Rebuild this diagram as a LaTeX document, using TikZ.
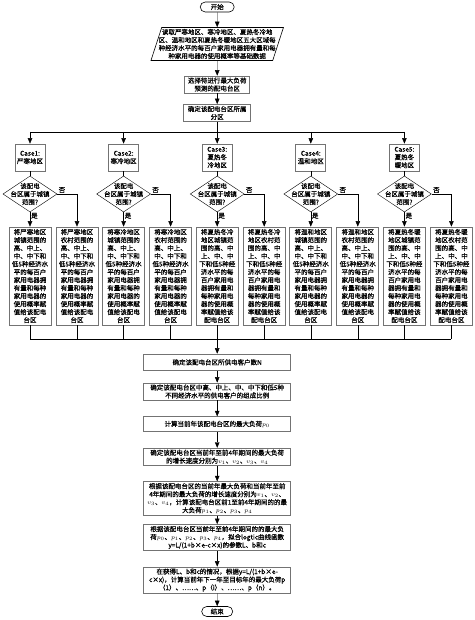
\documentclass[tikz,border=0pt]{standalone}
\usepackage{fontspec}
\setmainfont{Noto Sans CJK SC}[FakeBold=0.6]
\usetikzlibrary{arrows.meta,shapes.geometric,shapes.misc}

\newcommand{\assigntext}[2]{将#1地区\\#2范围的\\高、中上、\\中、中下和\\低5种经济水\\平的每百户\\家用电器拥\\有量和每种\\家用电器的\\使用概率赋\\值给该配电\\台区}
\newcommand{\assigntextlong}[2]{将夏热冬#1\\地区#2范\\围的高、中\\上、中、中\\下和低5种经\\济水平的每\\百户家用电\\器拥有量和\\每种家用电\\器的使用概\\率赋值给该\\配电台区}

\begin{document}
\begin{tikzpicture}[x=1pt,y=-1pt,
    font=\fontsize{6.5}{8}\selectfont,
    flowbox/.style={draw=black!55,line width=0.7pt,align=center,inner sep=1.5pt},
    stepbox/.style={flowbox,minimum width=147pt,minimum height=15pt},
    casebox/.style={flowbox,minimum width=30pt,minimum height=27pt},
    fillbox/.style={flowbox,minimum width=42pt,minimum height=98pt,inner sep=1pt},
    decision/.style={draw,diamond,minimum width=54pt,minimum height=36pt,inner sep=0pt},
    terminal/.style={draw,line width=0.6pt,rounded rectangle,minimum width=36pt,minimum height=10pt,inner sep=1pt},
    flowarrow/.style={-{Triangle[length=5.5pt,width=4.5pt]}},
    tag/.style={inner sep=1pt}]
    \useasboundingbox (0,0) rectangle (474,620);

    % main column, top part
    \node[terminal] (start) at (217.2,7) {开始};
    \node[draw,line width=0.6pt,trapezium,trapezium left angle=72,trapezium right angle=108,
          align=center,inner xsep=-3pt,inner ysep=1.5pt] (input) at (217.2,44)
        {读取严寒地区、寒冷地区、夏热冬冷地\\区、温和地区和夏热冬暖地区五大区域每\\种经济水平的每百户家用电器拥有量和每\\种家用电器的使用概率等基础数据};
    \node[flowbox,minimum width=65pt] (pick) at (217.2,84.5) {选择待进行最大负荷\\预测的配电台区};
    \node[flowbox,minimum width=67pt] (zone) at (217.2,113) {确定该配电台区所属\\分区};
    \coordinate (split) at (217.2,132);

    % the five climate zones
    \node[casebox] (case1) at (30,157.5) {Case1:\\严寒地区};
    \node[casebox] (case2) at (123.6,157.5) {Case2:\\寒冷地区};
    \node[casebox] (case3) at (217.2,157.5) {Case3:\\夏热冬\\冷地区};
    \node[casebox] (case4) at (310.8,157.5) {Case4:\\温和地区};
    \node[casebox] (case5) at (404.4,157.5) {Case5:\\夏热冬\\暖地区};

    \foreach \i/\x in {1/30,2/123.6,3/217.2,4/310.8,5/404.4} {
        \node[decision] (dec\i) at (\x,194) {};
        \node[align=center,inner sep=0pt] (ask\i) at (\x,194) {该配电\\台区属于城镇\\范围?};
    }

    \node[fillbox] (yes1) at (30,276) {\assigntext{严寒}{城镇}};
    \node[fillbox] (no1) at (77,276) {\assigntext{严寒}{农村}};
    \node[fillbox] (yes2) at (123.6,276) {\assigntext{寒冷}{城镇}};
    \node[fillbox] (no2) at (170.6,276) {\assigntext{寒冷}{农村}};
    \node[fillbox] (yes3) at (217.2,276) {\assigntextlong{冷}{城镇}};
    \node[fillbox] (no3) at (264.2,276) {\assigntextlong{冷}{农村}};
    \node[fillbox] (yes4) at (310.8,276) {\assigntext{温和}{城镇}};
    \node[fillbox] (no4) at (357.8,276) {\assigntext{温和}{农村}};
    \node[fillbox] (yes5) at (404.4,276) {\assigntextlong{暖}{城镇}};
    \node[fillbox] (no5) at (451.4,276) {\assigntextlong{暖}{农村}};
    \coordinate (join) at (217.2,339);

    % main column, bottom part
    \node[stepbox,minimum height=16.5pt] (count) at (217.2,362.3) {确定该配电台区所供电客户数N};
    \node[stepbox] (ratio) at (217.2,391.5) {确定该配电台区中高、中上、中、中下和低5种\\不同经济水平的供电客户的组成比例};
    \node[stepbox] (load) at (217.2,424.2) {计算当前年该配电台区的最大负荷$p_0$};
    \node[stepbox] (growth) at (217.2,457) {确定该配电台区当前年至前4年期间的最大负荷\\的增长速度分别为$v_1$、$v_2$、$v_3$、$v_4$};
    \node[stepbox] (past) at (217.2,498.5) {根据该配电台区的当前年最大负荷和当前年至前\\4年期间的最大负荷的增长速度分别为$v_1$、$v_2$、\\$v_3$、$v_4$，计算该配电台区前1至前4年期间的的最\\大负荷$p_1$、$p_2$、$p_3$、$p_4$};
    \node[stepbox] (fit) at (217.2,537.5) {根据该配电台区当前年至前4年期间的的最大负\\荷$p_0$、$p_1$、$p_2$、$p_3$、$p_4$，拟合logtic曲线函数\\y=L/(1+b×e-c×x)的参数L、b和c};
    \node[stepbox] (forecast) at (217.2,580) {在获得L、b和c的情况，根据y=L/(1+b×e-\\c×x)，计算当前年下一年至目标年的最大负荷p\\（1）、……、p（i）、……、p（n）。};
    \node[terminal,minimum width=33pt] (stop) at (217.2,611.5) {结束};

    \draw[flowarrow] (start) -- (input);
    \draw[flowarrow] (input) -- (pick);
    \draw[flowarrow] (pick) -- (zone);
    \draw (zone) -- (split);
    \draw (case1 |- split) -- (case5 |- split);
    \foreach \i in {1,...,5} {
        \draw[flowarrow] (case\i |- split) -- (case\i);
        \draw (case\i) -- (dec\i);
        \draw[flowarrow] (dec\i) -- node[tag,right,pos=0.25] (y\i) {是} (yes\i);
        \draw[flowarrow] (dec\i.east) -| node[tag,above,pos=0.12] (n\i) {否} (no\i);
        \draw (yes\i) -- (yes\i |- join);
        \draw (no\i) -- (no\i |- join);
    }
    \draw (yes1 |- join) -- (no5 |- join);
    \draw[flowarrow] (join) -- (count);
    \foreach \a/\b in {count/ratio,ratio/load,load/growth,growth/past,past/fit,fit/forecast,forecast/stop}
        \draw[flowarrow] (\a) -- (\b);
\end{tikzpicture}
\end{document}
